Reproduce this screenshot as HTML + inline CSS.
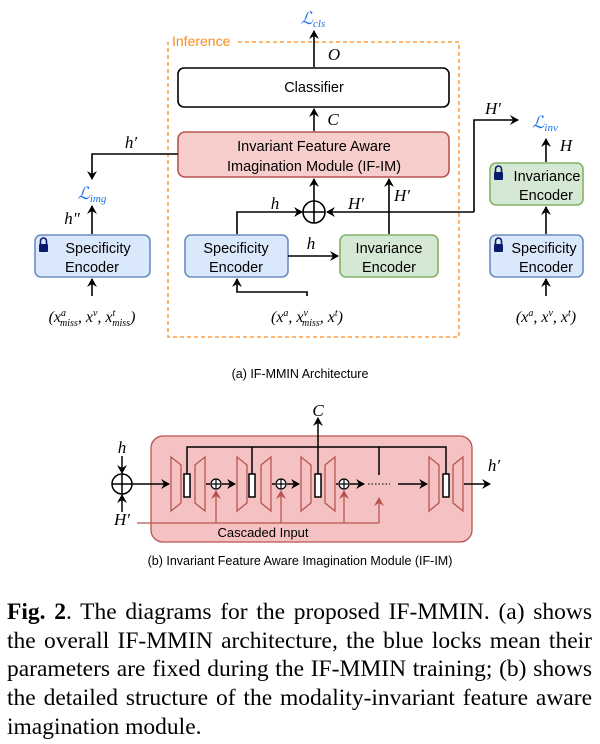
<!DOCTYPE html>
<html><head><meta charset="utf-8">
<style>
html,body{margin:0;padding:0;background:#fff;}
body{width:600px;height:744px;position:relative;overflow:hidden;}
svg{position:absolute;left:0;top:0;}
.cap{position:absolute;left:7px;top:598px;width:585px;font-family:"Liberation Serif",serif;font-size:23.5px;line-height:28.7px;color:#000;}
.cap div{text-align:justify;text-align-last:justify;white-space:nowrap;}
.cap div.l{text-align-last:left;}
.s{font-family:"Liberation Sans",sans-serif;}
.m{font-family:"Liberation Serif",serif;font-style:italic;}
</style></head><body>
<svg width="600" height="600" viewBox="0 0 600 600">
<defs>
<marker id="a" markerWidth="10" markerHeight="10" refX="8" refY="5" orient="auto" markerUnits="userSpaceOnUse"><path d="M0,0 L9,5 L0,10 L3,5 Z" fill="#000"/></marker>
<marker id="r" markerWidth="10" markerHeight="10" refX="8" refY="5" orient="auto" markerUnits="userSpaceOnUse"><path d="M0,0 L9,5 L0,10 L3,5 Z" fill="#b85450"/></marker>
</defs>
<g stroke="#000" stroke-width="1.6" fill="none">
<path d="M238,42 H459 V337 H168 V42" stroke="#ff8c1a" stroke-width="1.3" stroke-dasharray="4,3"/>
<rect x="178" y="68" width="271" height="39" rx="6" fill="#fff"/>
<rect x="178" y="132" width="271" height="45" rx="7" fill="#f8cecc" stroke="#b85450"/>
<rect x="35" y="235" width="115" height="42" rx="6" fill="#dae8fc" stroke="#6c8ebf"/>
<rect x="185" y="235" width="103" height="42" rx="6" fill="#dae8fc" stroke="#6c8ebf"/>
<rect x="340" y="235" width="98" height="42" rx="6" fill="#d5e8d4" stroke="#82b366"/>
<rect x="490" y="163" width="93" height="42" rx="6" fill="#d5e8d4" stroke="#82b366"/>
<rect x="490" y="235" width="93" height="42" rx="6" fill="#dae8fc" stroke="#6c8ebf"/>
<line x1="314" y1="67" x2="314" y2="31" marker-end="url(#a)"/>
<line x1="314" y1="131" x2="314" y2="109" marker-end="url(#a)"/>
<path d="M178,154 H92 V179" marker-end="url(#a)"/>
<line x1="92" y1="234" x2="92" y2="206" marker-end="url(#a)"/>
<line x1="92" y1="296" x2="92" y2="279" marker-end="url(#a)"/>
<line x1="288" y1="256" x2="338" y2="256" marker-end="url(#a)"/>
<circle cx="314" cy="212" r="11" fill="#fff"/>
<line x1="303" y1="212" x2="325" y2="212"/><line x1="314" y1="201" x2="314" y2="223"/>
<path d="M237,234 V212 H302" marker-end="url(#a)"/>
<line x1="314" y1="201" x2="314" y2="179" marker-end="url(#a)"/>
<line x1="389" y1="234" x2="389" y2="179" marker-end="url(#a)"/>
<path d="M474,212 H327" marker-end="url(#a)"/>
<path d="M474,212 V120 H518" marker-end="url(#a)"/>
<path d="M307,296 V292 H237 V279" marker-end="url(#a)"/>
<line x1="546" y1="162" x2="546" y2="139" marker-end="url(#a)"/>
<line x1="546" y1="234" x2="546" y2="207" marker-end="url(#a)"/>
<line x1="546" y1="296" x2="546" y2="279" marker-end="url(#a)"/>
</g>
<g fill="#0a1a6e">
<rect x="39" y="244" width="9" height="8" rx="1"/><path d="M40.5,244 v-3 a3,3 0 0 1 6,0 v3" stroke="#0a1a6e" stroke-width="1.6" fill="none"/>
<rect x="494" y="172" width="9" height="8" rx="1"/><path d="M495.5,172 v-3 a3,3 0 0 1 6,0 v3" stroke="#0a1a6e" stroke-width="1.6" fill="none"/>
<rect x="494" y="244" width="9" height="8" rx="1"/><path d="M495.5,244 v-3 a3,3 0 0 1 6,0 v3" stroke="#0a1a6e" stroke-width="1.6" fill="none"/>
</g>
<g class="s" font-size="14.5" text-anchor="middle" fill="#000">
<text x="172" y="46" text-anchor="start" fill="#ff8c1a" font-size="14">Inference</text>
<text x="314" y="92">Classifier</text>
<text x="314" y="151">Invariant Feature Aware</text>
<text x="314" y="171">Imagination Module (IF-IM)</text>
<text x="98" y="253">Specificity</text><text x="92" y="272">Encoder</text>
<text x="236" y="253">Specificity</text><text x="236" y="272">Encoder</text>
<text x="389" y="253">Invariance</text><text x="389" y="272">Encoder</text>
<text x="547" y="181">Invariance</text><text x="546" y="200">Encoder</text>
<text x="544" y="253">Specificity</text><text x="546" y="272">Encoder</text>
<text x="300" y="378" font-size="12.5">(a) IF-MMIN Architecture</text>
<text x="300" y="565" font-size="12.5">(b) Invariant Feature Aware Imagination Module (IF-IM)</text>
</g>
<g class="m" font-size="17" text-anchor="middle" fill="#000">
<text x="313" y="24" fill="#1a73e8">ℒ<tspan font-size="11" dy="3">cls</tspan></text>
<text x="92" y="199" fill="#1a73e8">ℒ<tspan font-size="11" dy="3">img</tspan></text>
<text x="545" y="128" fill="#1a73e8">ℒ<tspan font-size="11" dy="3">inv</tspan></text>
<text x="334" y="60">O</text>
<text x="333" y="125">C</text>
<text x="131" y="148">h′</text>
<text x="72" y="224">h″</text>
<text x="275" y="209">h</text>
<text x="311" y="249">h</text>
<text x="356" y="209">H′</text>
<text x="402" y="201">H′</text>
<text x="493" y="114">H′</text>
<text x="566" y="151">H</text>
<text x="92" y="322" font-size="16">(x<tspan font-size="10" dy="-6">a</tspan><tspan font-size="10" dx="-6" dy="10">miss</tspan><tspan dy="-4">, x</tspan><tspan font-size="10" dy="-6">v</tspan><tspan dy="6">, x</tspan><tspan font-size="10" dy="-6">t</tspan><tspan font-size="10" dx="-3" dy="10">miss</tspan><tspan dy="-4">)</tspan></text>
<text x="307" y="322" font-size="16">(x<tspan font-size="10" dy="-6">a</tspan><tspan dy="6">, x</tspan><tspan font-size="10" dy="-6">v</tspan><tspan font-size="10" dx="-6" dy="10">miss</tspan><tspan dy="-4">, x</tspan><tspan font-size="10" dy="-6">t</tspan><tspan dy="6">)</tspan></text>
<text x="546" y="322" font-size="16">(x<tspan font-size="10" dy="-6">a</tspan><tspan dy="6">, x</tspan><tspan font-size="10" dy="-6">v</tspan><tspan dy="6">, x</tspan><tspan font-size="10" dy="-6">t</tspan><tspan dy="6">)</tspan></text>
</g>
<rect x="151" y="436" width="321" height="106" rx="12" fill="#f4c2c2" stroke="#b85450" stroke-width="1.3"/>
<g stroke="#b85450" stroke-width="1.3" fill="none">
<path d="M171,457 L181,465 V503 L171,511 Z"/><path d="M205,457 L195,465 V503 L205,511 Z"/>
<path d="M237,457 L247,465 V503 L237,511 Z"/><path d="M271,457 L261,465 V503 L271,511 Z"/>
<path d="M301,457 L311,465 V503 L301,511 Z"/><path d="M335,457 L325,465 V503 L335,511 Z"/>
<path d="M429,457 L439,465 V503 L429,511 Z"/><path d="M463,457 L453,465 V503 L463,511 Z"/>
<path d="M137,523 H379"/>
<line x1="216" y1="523" x2="216" y2="491" marker-end="url(#r)"/>
<line x1="281" y1="523" x2="281" y2="491" marker-end="url(#r)"/>
<line x1="344" y1="523" x2="344" y2="491" marker-end="url(#r)"/>
<line x1="379" y1="523" x2="379" y2="498" marker-end="url(#r)"/>
</g>
<g stroke="#000" stroke-width="1.5" fill="none">
<path d="M187,475 V447 H446 V475"/>
<line x1="252" y1="447" x2="252" y2="475"/>
<line x1="318" y1="475" x2="318" y2="418" marker-end="url(#a)"/>
<line x1="379" y1="447" x2="379" y2="475"/>
<rect x="184" y="474" width="6" height="23" fill="#fff"/>
<rect x="249" y="474" width="6" height="23" fill="#fff"/>
<rect x="315" y="474" width="6" height="23" fill="#fff"/>
<rect x="443" y="474" width="6" height="23" fill="#fff"/>
<circle cx="122" cy="484" r="10" fill="#fff"/><line x1="112" y1="484" x2="132" y2="484"/><line x1="122" y1="474" x2="122" y2="494"/>
<line x1="122" y1="456" x2="122" y2="473" marker-end="url(#a)"/>
<line x1="122" y1="512" x2="122" y2="495" marker-end="url(#a)"/>
<line x1="132" y1="484" x2="169" y2="484" marker-end="url(#a)"/>
<line x1="206" y1="484" x2="210" y2="484"/><line x1="222" y1="484" x2="235" y2="484" marker-end="url(#a)"/>
<line x1="272" y1="484" x2="275" y2="484"/><line x1="287" y1="484" x2="299" y2="484" marker-end="url(#a)"/>
<line x1="336" y1="484" x2="338" y2="484"/><line x1="350" y1="484" x2="364" y2="484" marker-end="url(#a)"/>
<line x1="368" y1="484" x2="390" y2="484" stroke-dasharray="1.5,2" stroke-width="1"/>
<line x1="398" y1="484" x2="427" y2="484" marker-end="url(#a)"/>
<line x1="464" y1="484" x2="490" y2="484" marker-end="url(#a)"/>
<g stroke-width="1.2"><circle cx="216" cy="484" r="5" fill="#fff"/><path d="M211,484 H221 M216,479 V489"/>
<circle cx="281" cy="484" r="5" fill="#fff"/><path d="M276,484 H286 M281,479 V489"/>
<circle cx="344" cy="484" r="5" fill="#fff"/><path d="M339,484 H349 M344,479 V489"/></g>
</g>
<g class="m" font-size="17" text-anchor="middle" fill="#000">
<text x="318" y="416">C</text>
<text x="122" y="453">h</text>
<text x="122" y="525">H′</text>
<text x="494" y="471">h′</text>
</g>
<text x="263" y="537" class="s" font-size="13" text-anchor="middle">Cascaded Input</text>
</svg>
<div class="cap">
<div><b>Fig. 2</b>. The diagrams for the proposed IF-MMIN. (a) shows</div>
<div>the overall IF-MMIN architecture, the blue locks mean their</div>
<div>parameters are fixed during the IF-MMIN training; (b) shows</div>
<div>the detailed structure of the modality-invariant feature aware</div>
<div class="l">imagination module.</div>
</div>
</body></html>
